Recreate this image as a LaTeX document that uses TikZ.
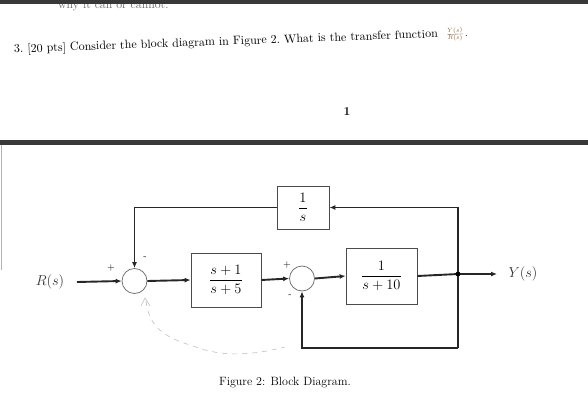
\documentclass[tikz,border=0pt]{standalone}
\usepackage{amsmath}
\usepackage{graphicx}
\usetikzlibrary{arrows.meta}
\tikzset{
  conn/.style={line width=1.9pt, draw=black!85, -{Latex[length=6pt,width=5pt]}},
  wire/.style={line width=1.9pt, draw=black!85},
  blk/.style={draw=black!70, line width=0.8pt, inner sep=0pt, font=\fontsize{15}{18}\selectfont},
  sumj/.style={circle, draw=black!60, line width=0.7pt, minimum size=25pt, inner sep=0pt},
  sgn/.style={font=\sffamily\fontsize{10}{12}\selectfont, inner sep=0pt},
  sig/.style={font=\fontsize{15}{18}\selectfont, text=black!80},
}
\begin{document}
\begin{tikzpicture}[x=1pt,y=-1pt]
\useasboundingbox (0,0) rectangle (588,412);
% cut-off line at top
\node[anchor=base west, text=black!60, font=\fontsize{12}{14}\selectfont, inner sep=0pt] (cut) at (58,9) {why it can or cannot.};
\fill[black!78] (0,0) rectangle (588,4.5);
% question
\node[anchor=base west, rotate=2.1, inner sep=0pt] (q) at (14,53)
  {\resizebox{424pt}{!}{3.\ [20 pts] Consider the block diagram in Figure 2.\ What is the transfer function}};
\node[anchor=base west, rotate=2.1, inner sep=0pt, text=brown!75!black, font=\footnotesize] (tf) at (446,36.5) {$\frac{Y(s)}{R(s)}$};
\node[anchor=base west, inner sep=0pt] (dot) at (465,36.5) {.};
\node[font=\fontsize{12}{14}\selectfont\bfseries, inner sep=0pt] (pg) at (347,112) {1};
% divider
\fill[black!78] (0,140) rectangle (588,144.5);
\draw[black!30, line width=1pt] (1,145) -- (1,270);
% diagram
\node[sumj] (s1) at (134.5,281) {};
\node[sumj] (s2) at (302,278.5) {};
\node[blk, minimum width=70pt, minimum height=54pt] (b1) at (226,280) {$\dfrac{s+1}{s+5}$};
\node[blk, minimum width=71pt, minimum height=56pt] (b2) at (381.5,276) {$\dfrac{1}{s+10}$};
\node[blk, minimum width=52pt, minimum height=43pt] (b3) at (303,207.5) {$\dfrac{1}{s}$};
\node[sig] (R) at (50,282) {$R(s)$};
\node[sig] (Y) at (523,274) {$Y(s)$};
\coordinate (rin) at (77,282);
\coordinate (br) at (458,274);
\coordinate (yout) at (497,274);
\coordinate (fb) at (458,348);
\draw[conn] (rin) -- (s1.west);
\draw[conn] (s1.east) -- (b1.west);
\draw[conn] (b1.east) -- (s2.west);
\draw[conn] (s2.east) -- (b2.west);
\draw[wire] (b2.east) -- (br);
\draw[conn] (br) -- (yout);
\draw[conn] (br) |- (b3.east);
\draw[conn] (b3.west) -| (s1.north);
\draw[wire] (br) -- (fb);
\draw[conn] (fb) -| (s2.south);
\fill[black] (br) circle (2.4pt);
% signs
\node[sgn] (p1) at (111,268) {+};
\node[sgn] (m1) at (145,258) {-};
\node[sgn] (p2) at (287,265) {+};
\node[sgn] (m2) at (290,296) {-};
% faint pencil mark
\draw[black!25, line width=0.6pt, dash pattern=on 5pt off 5pt] (146,301) .. controls (150,335) and (175,340) .. (205,350) .. controls (235,358) and (265,352) .. (285,347);
\draw[black!25, line width=0.6pt] (141,306) -- (145,298) -- (150,306);
% caption
\node[font=\fontsize{12}{14}\selectfont, inner sep=0pt] (cap) at (285,383) {Figure 2: Block Diagram.};
\end{tikzpicture}
\end{document}
